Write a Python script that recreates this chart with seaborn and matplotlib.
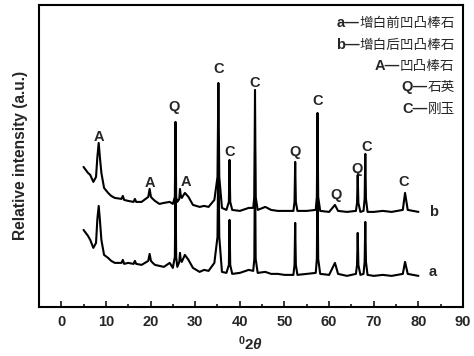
import numpy as np
import pandas as pd
import matplotlib
matplotlib.use('Agg')
import matplotlib.pyplot as plt
import seaborn as sns

# 2theta positions (deg)
two_theta = [5.0, 5.5, 6.0, 6.5, 7.2, 7.8, 8.1, 8.4, 8.7, 9.0, 9.6, 10.5, 11.2, 12.0, 13.5, 13.8, 14.1,
             15.0, 16.2, 16.5, 16.8, 18.0, 19.5, 19.8, 20.1, 20.5, 21.0, 22.0, 23.0, 24.3, 25.0,
             25.45, 25.6, 25.75, 26.0, 26.45, 26.6, 26.75, 27.0, 27.7, 28.5, 29.5, 31.0,
             32.0, 33.0, 34.3, 35.0, 35.2, 35.4, 36.0, 37.0, 37.55, 37.7, 37.85, 38.3, 40.0, 42.0,
             43.0, 43.25, 43.4, 43.55, 44.0, 45.7, 47.0, 48.5, 50.0, 52.0, 52.25, 52.4, 52.55,
             52.9, 55.0, 57.0, 57.25, 57.4, 57.55, 58.0, 60.0, 61.3, 62.0, 64.0, 66.0,
             66.25, 66.4, 66.55, 67.0, 67.7, 67.95, 68.1, 68.25, 68.6, 70.0, 72.0, 74.0, 76.5,
             77.0, 77.6, 80.0]

# curve b (after whitening), arbitrary units
int_b = [140, 137, 134, 132, 125, 130, 150, 164, 148, 134, 119, 114, 111, 109, 108, 111, 107,
         106, 105, 108, 105, 105, 110, 118, 110, 108, 106, 103, 104, 105, 103,
         110, 185, 110, 105, 108, 118, 112, 109, 114, 110, 102, 100,
         101, 100, 107, 130, 224, 130, 99, 97, 105, 147, 105, 97, 96, 99,
         99, 110, 217, 110, 97, 100, 97, 96, 96, 96, 105, 145, 105,
         96, 96, 97, 110, 194, 110, 96, 95, 102, 96, 95, 96,
         104, 132, 104, 95, 96, 108, 153, 108, 95, 95, 96, 95, 97,
         114, 97, 95]

# curve a (before whitening), arbitrary units
int_a = [77, 74, 71, 67, 59, 64, 88, 101, 85, 67, 52, 49, 46, 44, 44, 47, 43,
         44, 43, 46, 43, 42, 46, 53, 46, 44, 42, 41, 40, 44, 39,
         50, 122, 50, 40, 45, 54, 48, 45, 52, 47, 39, 35,
         37, 36, 44, 70, 161, 70, 35, 34, 42, 87, 42, 33, 34, 37,
         36, 48, 154, 48, 34, 35, 33, 33, 32, 32, 42, 84, 42,
         32, 33, 34, 48, 131, 48, 33, 32, 44, 33, 31, 33,
         42, 74, 42, 32, 33, 45, 85, 45, 32, 31, 32, 31, 33,
         45, 33, 31]

# phase labels above peaks: (letter, 2theta, height)
peak_labels = ['A', 'A', 'A', 'Q', 'C', 'C', 'C', 'Q', 'C', 'Q', 'Q', 'C', 'C']
peak_x = [8.4, 19.8, 27.9, 25.2, 35.2, 37.8, 43.4, 52.3, 57.4, 61.5, 66.3, 68.3, 76.8]
peak_y = [170, 124, 125, 200, 238, 155, 224, 155, 206, 112, 138, 160, 125]

legend_keys = ['a', 'b', 'A', 'Q', 'C']
legend_names = ['增白前凹凸棒石', '增白后凹凸棒石', '凹凸棒石', '石英', '刚玉']

df = pd.concat([
    pd.DataFrame({'2theta': two_theta, 'I': int_a, 'sample': 'a'}),
    pd.DataFrame({'2theta': two_theta, 'I': int_b, 'sample': 'b'}),
])

sns.set_style('ticks')
plt.rcParams['font.family'] = ['Liberation Sans', 'Noto Sans CJK SC', 'DejaVu Sans']
plt.rcParams['mathtext.fontset'] = 'custom'
plt.rcParams['mathtext.bf'] = 'Liberation Sans:bold'
plt.rcParams['mathtext.it'] = 'Liberation Sans:italic:bold'
plt.rcParams['mathtext.rm'] = 'Liberation Sans:bold'

fig = plt.figure(figsize=(4.74, 3.56), dpi=100)
ax = fig.add_axes([0.082, 0.138, 0.895, 0.848])

sns.lineplot(data=df, x='2theta', y='I', units='sample', estimator=None,
             color='black', linewidth=1.5, ax=ax, legend=False)

ax.set_xlim(-5, 90)
ax.set_ylim(0, 302)
ax.set_xticks(range(0, 91, 10))
ax.set_xticks(range(5, 90, 10), minor=True)
ax.set_yticks([])
ax.tick_params(axis='x', which='major', direction='in', length=4, width=1.3,
               labelsize=10.5, pad=6, top=False)
ax.tick_params(axis='x', which='minor', direction='in', length=2, width=1.3, top=False)
for lab in ax.get_xticklabels():
    lab.set_fontweight('bold')
for sp in ax.spines.values():
    sp.set_linewidth(1.5)
    sp.set_color('black')

ax.set_xlabel(r'$^{\mathbf{0}}\mathbf{2}\mathit{\theta}$', fontsize=11, labelpad=4)
ax.set_ylabel('Relative intensity (a.u.)', fontsize=11.2, fontweight='bold', labelpad=8)

for t, x, y in zip(peak_labels, peak_x, peak_y):
    ax.text(x, y, t, ha='center', va='center', fontsize=10.5, fontweight='bold')

ax.text(83.3, 95, 'b', ha='center', va='center', fontsize=10.5, fontweight='bold')
ax.text(83.3, 35, 'a', ha='center', va='center', fontsize=10.5, fontweight='bold')

# phase legend: latin key in bold, chinese name in regular weight
for i, (k, name) in enumerate(zip(legend_keys, legend_names)):
    yy = 0.94 - i * 0.071
    t = ax.text(0.98, yy, name, transform=ax.transAxes, ha='right', va='center',
                fontsize=9.8, family=['Noto Sans CJK SC'])
    ax.annotate(k + '—', xy=(0, 0.5), xycoords=t, ha='right', va='center',
                fontsize=10.5, fontweight='bold', family=['Liberation Sans', 'DejaVu Sans'])

fig.savefig('out.png', dpi=100)
